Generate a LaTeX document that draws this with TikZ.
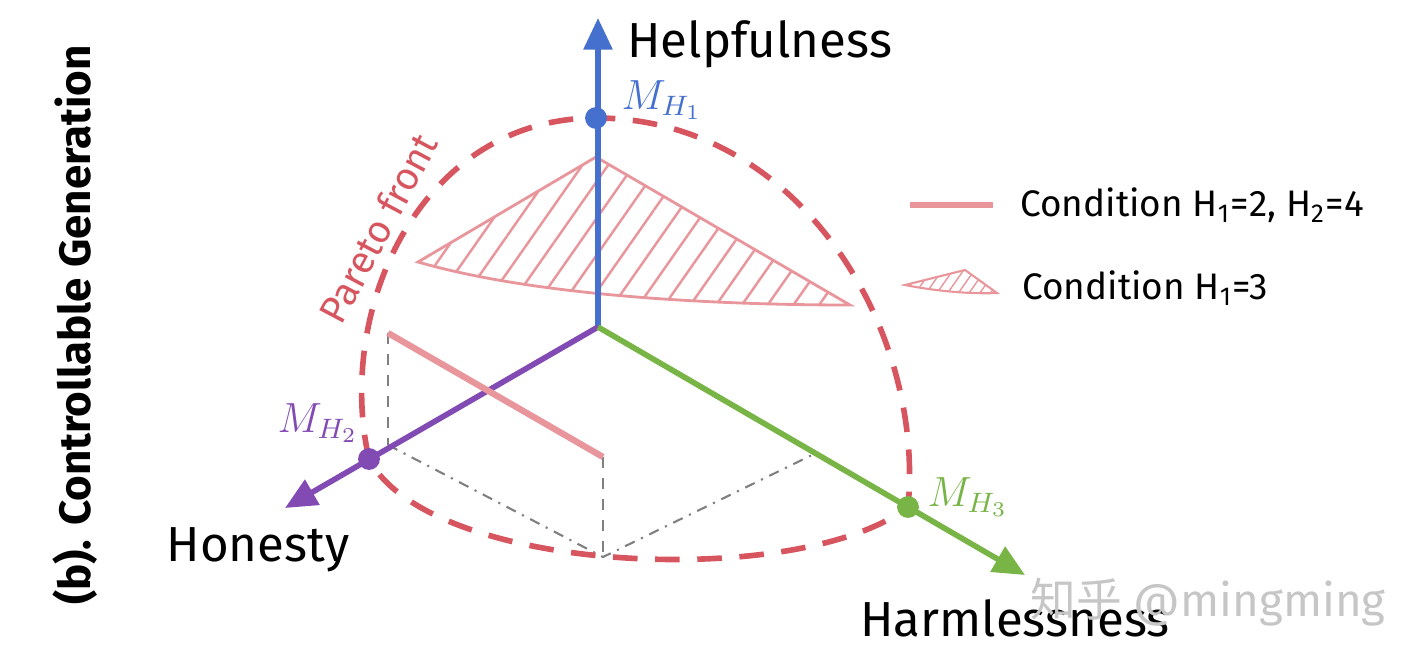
\documentclass[tikz,border=0pt]{standalone}
\usepackage{fontspec}
\setmainfont{Fira Sans}
\newfontfamily\cjk{Noto Sans CJK SC}
\usetikzlibrary{arrows.meta,patterns.meta}
\definecolor{hblue}{RGB}{70,112,205}
\definecolor{hpurple}{RGB}{130,75,180}
\definecolor{hgreen}{RGB}{120,180,70}
\definecolor{pred}{RGB}{215,85,95}
\definecolor{ppink}{RGB}{232,150,155}
\tikzset{
  axis/.style={line width=1.6pt,-{Triangle[length=9pt,width=8pt]}},
  dotm/.style={circle,fill,inner sep=2.2pt},
  axlab/.style={font=\fontsize{14}{16}\selectfont},
  mlab/.style={font=\fontsize{12}{14}\selectfont\itshape},
  legtxt/.style={font=\fontsize{10.5}{12}\selectfont,anchor=west},
  guide/.style={gray,line width=0.6pt},
  hatchfill/.style={draw=ppink,line width=0.8pt,pattern={Lines[angle=55,distance=6pt,line width=0.7pt]},pattern color=ppink}
}
\begin{document}
\begin{tikzpicture}[x=0.1mm,y=-0.1mm]
\useasboundingbox (0,0) rectangle (1410,666);
\coordinate (O) at (598,327);
% hatched region
\path[hatchfill] (596,157) -- (418,262) .. controls (550,300) and (750,305) .. (850,305) -- cycle;
% guides
\coordinate (A) at (388,333);
\coordinate (Ab) at (388,445);
\coordinate (B) at (603,457);
\coordinate (Bb) at (603,557);
\coordinate (C) at (812,455);
\draw[guide,dashed] (A) -- (Ab);
\draw[guide,dashed] (B) -- (Bb);
\draw[guide,dash dot] (Ab) -- (Bb) -- (C);
% axes
\draw[axis,hblue] (O) -- (598,18) coordinate (Htip);
\draw[axis,hpurple] (O) -- (285,508) coordinate (Otip);
\draw[axis,hgreen] (O) -- (1025,575) coordinate (Gtip);
% pink condition line
\draw[ppink,line width=1.8pt] (A) -- (B);
% pareto front
\coordinate (P1) at (596,118);
\coordinate (P2) at (369,459);
\coordinate (P3) at (908,507);
\draw[pred,dashed,line width=1.6pt,dash pattern=on 7pt off 5pt]
 (P2) .. controls (335,310) and (420,118) .. (P1)
 .. controls (800,118) and (925,330) .. (P3)
 .. controls (800,590) and (430,575) .. (P2);
\node[dotm,hblue] (M1) at (P1) {};
\node[dotm,hpurple] (M2) at (P2) {};
\node[dotm,hgreen] (M3) at (P3) {};
% labels
\node[axlab,anchor=west] (lh) at (615,44) {Helpfulness};
\node[axlab] (lo) at (258,550) {Honesty};
\node[axlab] (lg) at (1015,618) {Harmlessness};
\node[mlab,hblue] (m1) at (662,100) {$M_{H_1}$};
\node[mlab,hpurple] (m2) at (318,423) {$M_{H_2}$};
\node[mlab,hgreen] (m3) at (968,497) {$M_{H_3}$};
\node[pred,rotate=62,font=\fontsize{11}{13}\selectfont] (pf) at (378,228) {Pareto front};
% legend
\coordinate (L1) at (910,205);
\coordinate (L2) at (993,205);
\draw[ppink,line width=1.8pt] (L1) -- (L2);
\node[legtxt] (t1) at (1008,205) {Condition H\textsubscript{1}=2, H\textsubscript{2}=4};
\path[draw=ppink,line width=0.6pt,pattern={Lines[angle=55,distance=2.5pt,line width=0.4pt]},pattern color=ppink]
  (965,270) -- (905,285) .. controls (940,292) and (975,294) .. (997,293) -- cycle;
\node[legtxt] (t2) at (1010,288) {Condition H\textsubscript{1}=3};
% title
\node[rotate=90,font=\fontsize{12.5}{15}\selectfont\bfseries] (title) at (75,325) {(b). Controllable Generation};
% watermark
\node[gray!45,font=\fontsize{13}{16}\selectfont] (wm) at (1208,602) {{\cjk 知乎} @mingming};
\end{tikzpicture}
\end{document}
